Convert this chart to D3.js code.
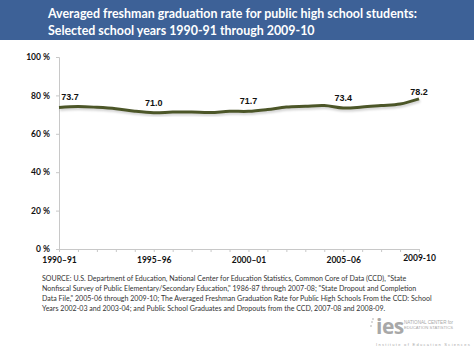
<!DOCTYPE html>
<html><head><meta charset="utf-8">
<script src="https://cdn.jsdelivr.net/npm/d3@7"></script>
<style>html,body{margin:0;padding:0;background:#fff;}svg{display:block;}</style>
</head><body>
<script>
const years = ["1990–91","1991–92","1992–93","1993–94","1994–95","1995–96","1996–97","1997–98","1998–99","1999–2000",
  "2000–01","2001–02","2002–03","2003–04","2004–05","2005–06","2006–07","2007–08","2008–09","2009-10"];
const rates = [73.7,74.2,73.8,73.1,71.8,71.0,71.3,71.3,71.1,71.7,71.7,72.6,73.9,74.3,74.7,73.4,73.9,74.7,75.5,78.2];
const labeledYears = ["1990–91","1995–96","2000–01","2005–06","2009-10"];
const yTicks = [0,20,40,60,80,100];
const titleLines = ["Averaged freshman graduation rate for public high school students:",
  "Selected school years 1990-91 through 2009-10"];
const sourceLines = [
  'SOURCE: U.S. Department of Education, National Center for Education Statistics, Common Core of Data (CCD), "State',
  'Nonfiscal Survey of Public Elementary/Secondary Education," 1986-87 through 2007-08; "State Dropout and Completion',
  'Data File," 2005-06 through 2009-10; The Averaged Freshman Graduation Rate for Public High Schools From the CCD: School',
  'Years 2002-03 and 2003-04; and Public School Graduates and Dropouts from the CCD, 2007-08 and 2008-09.'];

const W = 474, H = 355;
const svg = d3.select("body").append("svg").attr("width", W).attr("height", H);

function fit(sel, target) {
  const n = sel.node(); const fs = parseFloat(sel.attr("font-size"));
  const w = n.getComputedTextLength();
  sel.attr("font-size", (fs * target / w).toFixed(2));
}

// Title bar
svg.append("rect").attr("x", 0).attr("y", 0).attr("width", W).attr("height", 40).attr("fill", "#3d6197");
const tl = svg.selectAll("text.title").data(titleLines).join("text")
  .attr("class", "title").attr("x", 48).attr("y", (d, i) => 18 + i * 17)
  .attr("fill", "#fff").attr("font-family", "Lato, 'Open Sans', sans-serif")
  .attr("font-weight", "bold").attr("font-size", 16).text(d => d);
fit(d3.select(tl.nodes()[0]), 369);
d3.select(tl.nodes()[1]).attr("font-size", d3.select(tl.nodes()[0]).attr("font-size"));

// Scales
const x = d3.scalePoint().domain(years).range([59, 419]);
const y = d3.scaleLinear().domain([0, 100]).range([249, 57]);

// Axes
const yAxis = svg.append("g").attr("transform", "translate(59,0)")
  .call(d3.axisLeft(y).tickValues(yTicks).tickSize(3).tickFormat(d => d + " %"));
yAxis.select(".domain").attr("stroke", "#c8c8c8");
yAxis.selectAll(".tick line").attr("stroke", "#c8c8c8");
yAxis.selectAll(".tick text").attr("x", -9).attr("font-family", "Lato, 'Open Sans', sans-serif")
  .attr("font-weight", "bold").attr("font-size", 8.5).attr("fill", "#111");

const xAxis = svg.append("g").attr("transform", "translate(0,249)")
  .call(d3.axisBottom(x).tickSize(3).tickSizeOuter(0)
    .tickFormat(d => labeledYears.includes(d) ? d : ""));
xAxis.select(".domain").attr("stroke", "#c8c8c8");
xAxis.selectAll(".tick line").attr("stroke", "#c8c8c8");
xAxis.selectAll(".tick text").attr("y", 8).attr("dy", "0.71em")
  .attr("font-family", "Lato, 'Open Sans', sans-serif")
  .attr("font-weight", "bold").attr("font-size", 8.5).attr("fill", "#111")
  .filter(d => d === "2009-10").attr("y", 6);

// Line
const line = d3.line().x((d, i) => x(years[i])).y(d => y(d)).curve(d3.curveCatmullRom.alpha(0.5));
const defs = svg.append("defs");
defs.append("filter").attr("id", "blur").append("feGaussianBlur").attr("stdDeviation", 1.2);
svg.append("path").datum(rates).attr("d", line).attr("fill", "none")
  .attr("stroke", "#000").attr("stroke-opacity", 0.18).attr("stroke-width", 3)
  .attr("transform", "translate(1,2)").attr("filter", "url(#blur)");
svg.append("path").datum(rates).attr("d", line).attr("fill", "none")
  .attr("stroke", "#4c5628").attr("stroke-width", 3).attr("stroke-linejoin", "round");

// Data labels
const lblIdx = years.map((d, i) => i).filter(i => labeledYears.includes(years[i]));
svg.selectAll("text.dl").data(lblIdx).join("text").attr("class", "dl")
  .attr("x", i => x(years[i]) + (i === 0 ? 11 : 0))
  .attr("y", i => y(rates[i]) - (i === years.length - 1 ? 4 : 7))
  .attr("text-anchor", "middle").attr("font-family", "'Liberation Sans', Arial, sans-serif")
  .attr("font-weight", "bold").attr("font-size", 9).attr("fill", "#111")
  .text(i => rates[i].toFixed(1));

// Source
const sl = svg.selectAll("text.src").data(sourceLines).join("text").attr("class", "src")
  .attr("x", 42).attr("y", (d, i) => 281 + i * 10)
  .attr("font-family", "Lato, 'Open Sans', sans-serif").attr("font-size", 7.5).attr("fill", "#333").text(d => d);
fit(d3.select(sl.nodes()[2]), 390);
sl.attr("font-size", d3.select(sl.nodes()[2]).attr("font-size"));

// IES logo
const logo = svg.append("g").attr("fill", "#a8a8a8");
[[372, 322], [371, 326], [373, 319]].forEach(p => logo.append("circle").attr("cx", p[0]).attr("cy", p[1]).attr("r", 0.8));
logo.append("text").attr("x", 376).attr("y", 334).attr("font-family", "'Open Sans', sans-serif")
  .attr("font-weight", "bold").attr("font-size", 21).attr("letter-spacing", -0.5).text("ies");
const l1 = logo.append("text").attr("x", 404).attr("y", 324).attr("font-family", "'Liberation Sans', sans-serif")
  .attr("font-size", 4.2).text("NATIONAL CENTER for");
fit(l1, 49);
const l2 = logo.append("text").attr("x", 404).attr("y", 329).attr("font-family", "'Liberation Sans', sans-serif")
  .attr("font-size", 4.2).text("EDUCATION STATISTICS");
fit(l2, 49);
logo.append("text").attr("x", 376).attr("y", 346).attr("font-family", "'Liberation Sans', sans-serif")
  .attr("font-size", 4).attr("letter-spacing", 1.3).text("Institute of Education Sciences");
</script>
</body></html>
